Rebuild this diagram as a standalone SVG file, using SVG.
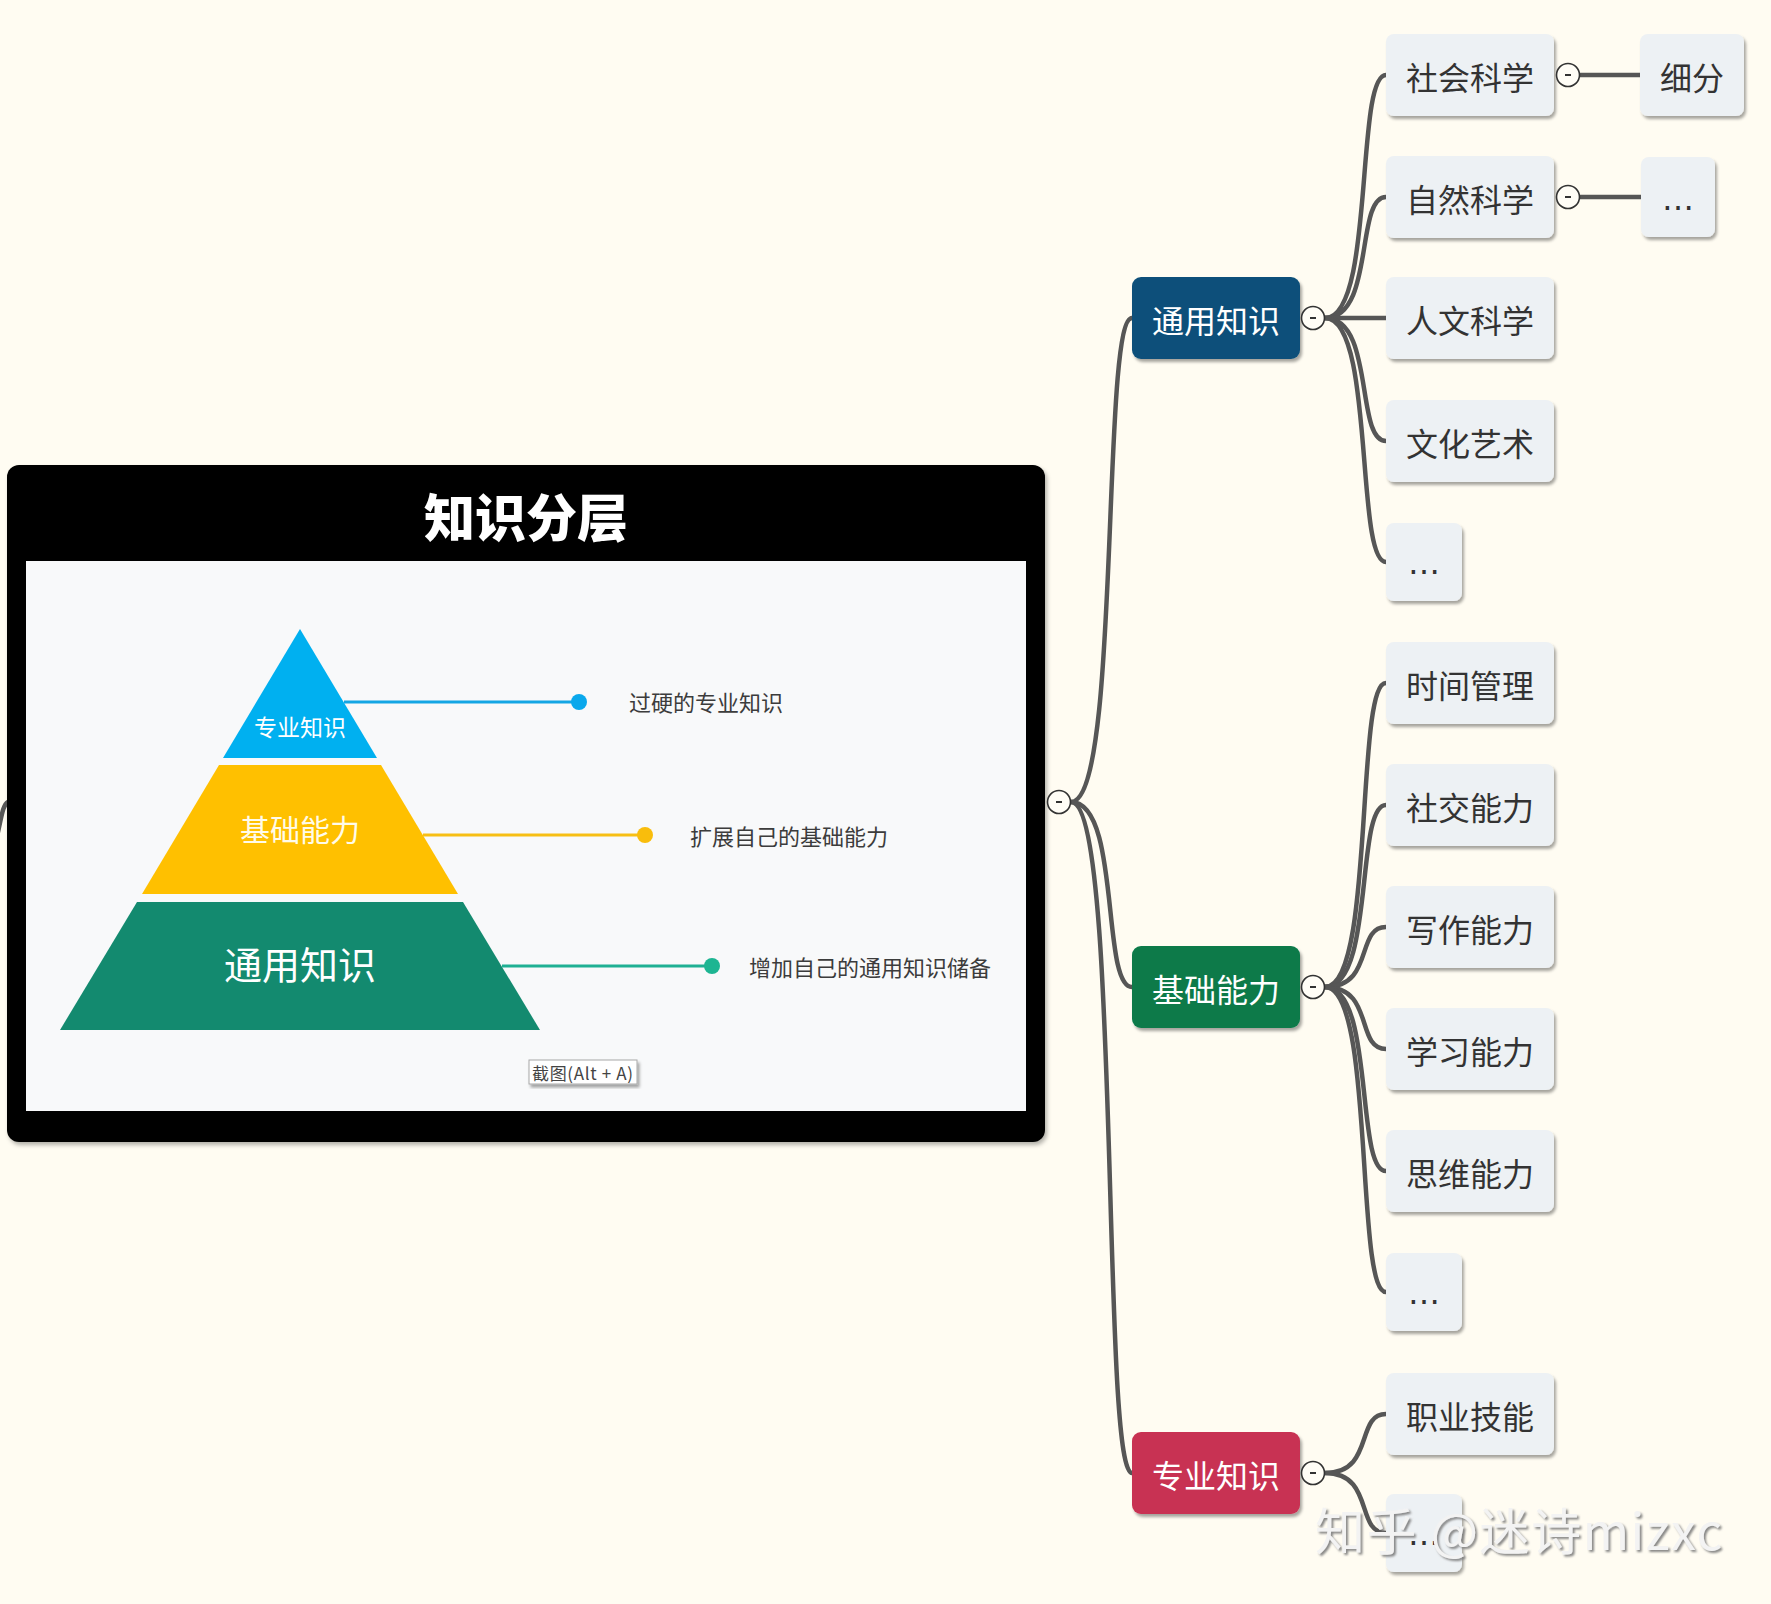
<svg xmlns="http://www.w3.org/2000/svg" width="1771" height="1604" viewBox="0 0 1771 1604">
  <defs>
    <filter id="sh" x="-10%" y="-10%" width="130%" height="130%">
      <feDropShadow dx="2" dy="3" stdDeviation="1.5" flood-color="#000" flood-opacity="0.35"/>
    </filter>
    <filter id="shf" x="-5%" y="-5%" width="110%" height="110%">
      <feDropShadow dx="2" dy="3" stdDeviation="2" flood-color="#000" flood-opacity="0.3"/>
    </filter>
    <filter id="wm" x="-5%" y="-20%" width="110%" height="140%">
      <feDropShadow dx="2" dy="2" stdDeviation="0.8" flood-color="#7a7a7a" flood-opacity="0.9"/>
    </filter>
  </defs>
  <style>
    .cjk { font-family: "Noto Sans CJK SC", "Noto Sans", sans-serif; }
    .sub { fill: #edf1f4; filter: url(#sh); }
    .subt { font-family: "Noto Sans CJK SC", sans-serif; font-size: 32px; fill: #333; text-anchor: middle; }
    .dots { font-family: "DejaVu Sans", "Noto Sans", sans-serif; font-size: 32px; fill: #333; text-anchor: middle; }
    .brt { font-family: "Noto Sans CJK SC", sans-serif; font-size: 32px; fill: #fff; text-anchor: middle; }
    .conn { fill: none; stroke: #565656; stroke-width: 4.5; stroke-linecap: round; }
    .tog circle { fill: #fffdf6; stroke: #333; stroke-width: 1.6; }
    .tog line { stroke: #333; stroke-width: 2; }
    .lbl { font-family: "Noto Sans CJK SC", sans-serif; font-size: 22px; fill: #3c3c3c; }
  </style>

  <rect x="0" y="0" width="1771" height="1604" fill="#fffcf2"/>

  <!-- connectors -->
  <g id="connectors">
    <path class="conn" d="M-2,832 C2,814 3,805 8,802"/>
    <path class="conn" d="M1071,802 C1121,802 1101,318 1132,318"/>
    <path class="conn" d="M1071,802 C1121,802 1101,987 1132,987"/>
    <path class="conn" d="M1071,802 C1121,802 1101,1473 1132,1473"/>

    <path class="conn" d="M1325,318 C1375,318 1355,75 1386,75"/>
    <path class="conn" d="M1325,318 C1375,318 1355,197 1386,197"/>
    <path class="conn" d="M1325,318 L1386,318"/>
    <path class="conn" d="M1325,318 C1375,318 1355,441 1386,441"/>
    <path class="conn" d="M1325,318 C1375,318 1355,562 1386,562"/>

    <path class="conn" d="M1325,987 C1375,987 1355,683 1386,683"/>
    <path class="conn" d="M1325,987 C1375,987 1355,805 1386,805"/>
    <path class="conn" d="M1325,987 C1375,987 1355,927 1386,927"/>
    <path class="conn" d="M1325,987 C1375,987 1355,1049 1386,1049"/>
    <path class="conn" d="M1325,987 C1375,987 1355,1171 1386,1171"/>
    <path class="conn" d="M1325,987 C1375,987 1355,1292 1386,1292"/>

    <path class="conn" d="M1325,1473 C1375,1473 1355,1414 1386,1414"/>
    <path class="conn" d="M1325,1473 C1375,1473 1355,1533 1386,1533"/>

    <path class="conn" d="M1580,75 L1640,75"/>
    <path class="conn" d="M1580,197 L1641,197"/>
  </g>

  <!-- image node -->
  <g id="knowledge-layers">
    <rect x="7" y="465" width="1038" height="677" rx="12" fill="#000" filter="url(#shf)"/>
    <text x="526" y="537" class="cjk" font-size="51" font-weight="900" fill="#fff" text-anchor="middle">知识分层</text>
    <rect x="26" y="561" width="1000" height="550" fill="#f8f9fa"/>

    <polygon points="300,629 377,758 223,758" fill="#00b0f0"/>
    <polygon points="219,765 381,765 458,894 142,894" fill="#ffc000"/>
    <polygon points="137,902 463,902 540,1030 60,1030" fill="#138a6f"/>

    <text x="300" y="736" class="cjk" font-size="23" fill="#fff" text-anchor="middle">专业知识</text>
    <text x="300" y="841" class="cjk" font-size="30" fill="#fffbea" text-anchor="middle">基础能力</text>
    <text x="300" y="979" class="cjk" font-size="38" fill="#fff" text-anchor="middle">通用知识</text>

    <line x1="344" y1="702" x2="579" y2="702" stroke="#14a6e4" stroke-width="3"/>
    <circle cx="579" cy="702" r="8" fill="#0aa8ec"/>
    <line x1="423" y1="835" x2="645" y2="835" stroke="#f7bf14" stroke-width="3"/>
    <circle cx="645" cy="835" r="8" fill="#f9bd0c"/>
    <line x1="502" y1="966" x2="712" y2="966" stroke="#1fb093" stroke-width="3"/>
    <circle cx="712" cy="966" r="8" fill="#1db592"/>

    <text x="629" y="711" class="lbl">过硬的专业知识</text>
    <text x="690" y="845" class="lbl">扩展自己的基础能力</text>
    <text x="749" y="976" class="lbl">增加自己的通用知识储备</text>

    <rect x="529" y="1060" width="108" height="24" fill="#fff" stroke="#a8a8a8" stroke-width="1" filter="url(#sh)"/>
    <text x="532" y="1080" class="cjk" font-size="17" fill="#444" textLength="101" lengthAdjust="spacing">截图(Alt + A)</text>
  </g>
  <g id="toggle-root" class="tog"><circle cx="1059" cy="802" r="11.5"/><line x1="1056" y1="802" x2="1062" y2="802"/></g>

  <!-- branch nodes -->
  <g id="general-knowledge">
    <rect x="1132" y="277" width="168" height="82" rx="9" fill="#0b507a" filter="url(#sh)"/>
    <text x="1216" y="333" class="brt">通用知识</text>
  </g>
  <g id="toggle-general" class="tog"><circle cx="1313" cy="318" r="11.5"/><line x1="1310" y1="318" x2="1316" y2="318"/></g>

  <g id="basic-ability">
    <rect x="1132" y="946" width="168" height="82" rx="9" fill="#087a4a" filter="url(#sh)"/>
    <text x="1216" y="1002" class="brt">基础能力</text>
  </g>
  <g id="toggle-basic" class="tog"><circle cx="1313" cy="987" r="11.5"/><line x1="1310" y1="987" x2="1316" y2="987"/></g>

  <g id="professional-knowledge">
    <rect x="1132" y="1432" width="168" height="82" rx="9" fill="#c83252" filter="url(#sh)"/>
    <text x="1216" y="1488" class="brt">专业知识</text>
  </g>
  <g id="toggle-professional" class="tog"><circle cx="1313" cy="1473" r="11.5"/><line x1="1310" y1="1473" x2="1316" y2="1473"/></g>

  <!-- children of 通用知识 -->
  <g id="social-science"><rect class="sub" x="1386" y="34" width="168" height="82" rx="8"/><text class="subt" x="1470" y="90">社会科学</text></g>
  <g id="toggle-social" class="tog"><circle cx="1568" cy="75" r="11.5"/><line x1="1565" y1="75" x2="1571" y2="75"/></g>
  <g id="subdivide"><rect class="sub" x="1640" y="34" width="104" height="82" rx="8"/><text class="subt" x="1692" y="90">细分</text></g>

  <g id="natural-science"><rect class="sub" x="1386" y="156" width="168" height="82" rx="8"/><text class="subt" x="1470" y="212">自然科学</text></g>
  <g id="toggle-natural" class="tog"><circle cx="1568" cy="197" r="11.5"/><line x1="1565" y1="197" x2="1571" y2="197"/></g>
  <g id="natural-more"><rect class="sub" x="1641" y="157" width="74" height="80" rx="8"/><text class="dots" x="1678" y="210">…</text></g>

  <g id="humanities"><rect class="sub" x="1386" y="277" width="168" height="82" rx="8"/><text class="subt" x="1470" y="333">人文科学</text></g>
  <g id="culture-art"><rect class="sub" x="1386" y="400" width="168" height="82" rx="8"/><text class="subt" x="1470" y="456">文化艺术</text></g>
  <g id="general-more"><rect class="sub" x="1386" y="523" width="76" height="78" rx="8"/><text class="dots" x="1424" y="574">…</text></g>

  <!-- children of 基础能力 -->
  <g id="time-management"><rect class="sub" x="1386" y="642" width="168" height="82" rx="8"/><text class="subt" x="1470" y="698">时间管理</text></g>
  <g id="social-ability"><rect class="sub" x="1386" y="764" width="168" height="82" rx="8"/><text class="subt" x="1470" y="820">社交能力</text></g>
  <g id="writing-ability"><rect class="sub" x="1386" y="886" width="168" height="82" rx="8"/><text class="subt" x="1470" y="942">写作能力</text></g>
  <g id="learning-ability"><rect class="sub" x="1386" y="1008" width="168" height="82" rx="8"/><text class="subt" x="1470" y="1064">学习能力</text></g>
  <g id="thinking-ability"><rect class="sub" x="1386" y="1130" width="168" height="82" rx="8"/><text class="subt" x="1470" y="1186">思维能力</text></g>
  <g id="basic-more"><rect class="sub" x="1386" y="1253" width="76" height="78" rx="8"/><text class="dots" x="1424" y="1304">…</text></g>

  <!-- children of 专业知识 -->
  <g id="vocational-skills"><rect class="sub" x="1386" y="1373" width="168" height="82" rx="8"/><text class="subt" x="1470" y="1429">职业技能</text></g>
  <g id="professional-more"><rect class="sub" x="1386" y="1494" width="76" height="78" rx="8"/><text class="dots" x="1424" y="1545">…</text></g>

  <!-- watermark -->
  <text x="1315" y="1550" class="cjk" font-size="50" fill="#f3f3f3" filter="url(#wm)" textLength="407" lengthAdjust="spacing">知乎 @迷诗mizxc</text>
</svg>
